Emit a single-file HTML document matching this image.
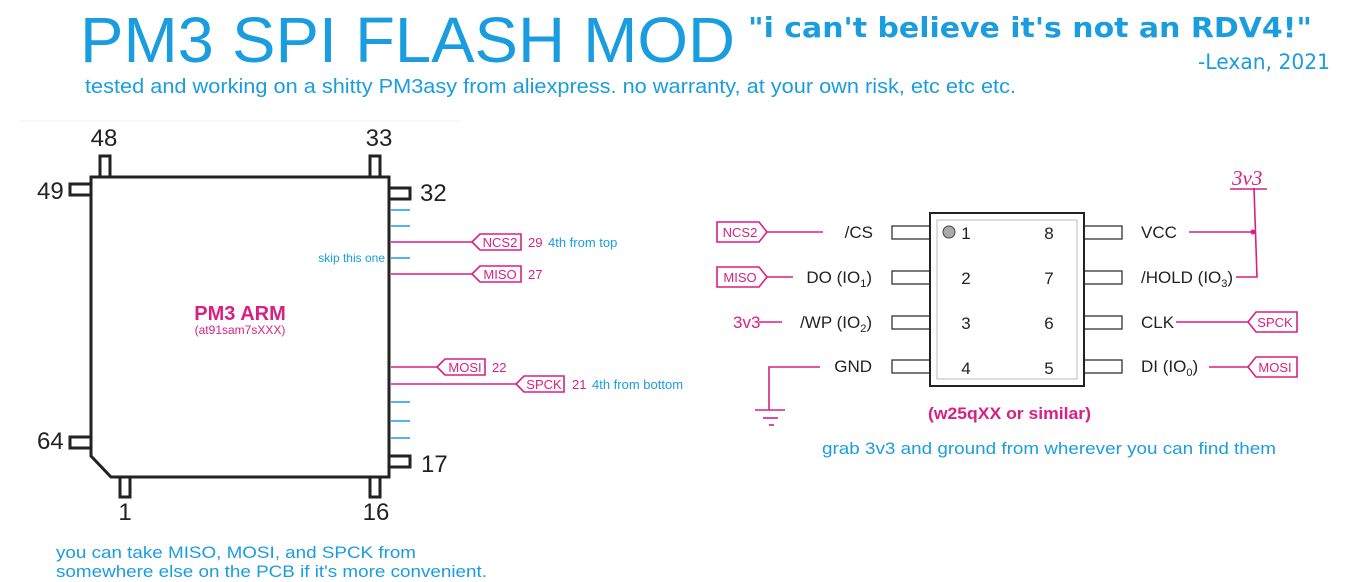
<!DOCTYPE html>
<html><head><meta charset="utf-8"><style>
html,body{margin:0;padding:0;background:#fff}
svg{display:block}
text{font-family:"Liberation Sans",Arial,sans-serif}
</style></head><body>
<svg width="1345" height="582" viewBox="0 0 1345 582" xmlns="http://www.w3.org/2000/svg">
<defs>
<style>
.b{fill:#1a9ddf}.p{fill:#d81f84}.k{fill:#222}
.pl{stroke:#d81f84;stroke-width:1.6;fill:none}
.bl{stroke:#1a9ddf;stroke-width:1.6;fill:none}
.ch{stroke:#222;stroke-width:3;fill:#fff}
</style>
</defs>
<!-- header -->
<text class="b" x="80" y="62" font-size="64" textLength="655" lengthAdjust="spacingAndGlyphs">PM3 SPI FLASH MOD</text>
<text class="b" x="748" y="37" font-size="28" font-weight="bold" textLength="564" lengthAdjust="spacingAndGlyphs" style="font-family:'DejaVu Sans',sans-serif">"i can't believe it's not an RDV4!"</text>
<text class="b" x="1198" y="69" font-size="21" textLength="132" lengthAdjust="spacingAndGlyphs" style="font-family:'DejaVu Sans',sans-serif">-Lexan, 2021</text>
<text class="b" x="85" y="93" font-size="20" textLength="931" lengthAdjust="spacingAndGlyphs">tested and working on a shitty PM3asy from aliexpress. no warranty, at your own risk, etc etc etc.</text>
<line x1="20" y1="121" x2="461" y2="121" stroke="#f2f2f2" stroke-width="1"/>

<!-- ARM chip pins -->
<rect class="ch" x="100" y="156" width="10" height="21" stroke-width="2.5"/>
<rect class="ch" x="370" y="156" width="10" height="21" stroke-width="2.5"/>
<rect class="ch" x="70" y="184" width="21" height="11" stroke-width="2.5"/>
<rect class="ch" x="389" y="188" width="21" height="11" stroke-width="2.5"/>
<rect class="ch" x="70" y="437" width="21" height="11" stroke-width="2.5"/>
<rect class="ch" x="389" y="456" width="21" height="11" stroke-width="2.5"/>
<rect class="ch" x="120" y="477" width="10" height="20" stroke-width="2.5"/>
<rect class="ch" x="370" y="477" width="10" height="20" stroke-width="2.5"/>
<path class="ch" d="M91 177 H389 V477 H111 L91 456 Z"/>
<text class="k" x="104" y="146" font-size="24" text-anchor="middle">48</text>
<text class="k" x="379" y="146" font-size="24" text-anchor="middle">33</text>
<text class="k" x="37" y="199" font-size="24">49</text>
<text class="k" x="420" y="201" font-size="24">32</text>
<text class="k" x="37" y="449" font-size="24">64</text>
<text class="k" x="421" y="472" font-size="24">17</text>
<text class="k" x="125" y="520" font-size="24" text-anchor="middle">1</text>
<text class="k" x="376" y="520" font-size="24" text-anchor="middle">16</text>
<text class="p" x="240" y="320" font-size="20" font-weight="bold" text-anchor="middle">PM3 ARM</text>
<text class="p" x="240" y="334" font-size="12" text-anchor="middle">(at91sam7sXXX)</text>

<!-- blue ticks -->
<g class="bl">
<line x1="391" y1="210" x2="410" y2="210"/><line x1="391" y1="226" x2="410" y2="226"/><line x1="391" y1="258" x2="410" y2="258"/>
<line x1="391" y1="402" x2="410" y2="402"/><line x1="391" y1="421" x2="410" y2="421"/><line x1="391" y1="438" x2="410" y2="438"/>
</g>
<text class="b" x="385" y="262" font-size="12" text-anchor="end">skip this one</text>
<!-- pink lines with tags -->
<g class="pl">
<line x1="391" y1="242" x2="472" y2="242"/>
<path d="M472 242 L480 234 H521 V250 H480 Z"/>
<line x1="391" y1="274" x2="472" y2="274"/>
<path d="M472 274 L480 266 H521 V282 H480 Z"/>
<line x1="391" y1="367" x2="437" y2="367"/>
<path d="M437 367 L445 359 H485 V375 H445 Z"/>
<line x1="391" y1="384" x2="516" y2="384"/>
<path d="M516 384 L524 376 H564 V392 H524 Z"/>
</g>
<g font-size="13">
<text class="p" x="500" y="247" text-anchor="middle">NCS2</text>
<text class="p" x="528" y="247">29</text><text class="b" x="548" y="247">4th from top</text>
<text class="p" x="500" y="279" text-anchor="middle">MISO</text>
<text class="p" x="528" y="279">27</text>
<text class="p" x="465" y="372" text-anchor="middle">MOSI</text>
<text class="p" x="492" y="372">22</text>
<text class="p" x="544" y="389" text-anchor="middle">SPCK</text>
<text class="p" x="572" y="389">21</text><text class="b" x="592" y="389">4th from bottom</text>
</g>
<text class="b" x="56" y="558" font-size="17" textLength="360" lengthAdjust="spacingAndGlyphs">you can take MISO, MOSI, and SPCK from</text>
<text class="b" x="56" y="577" font-size="17" textLength="431" lengthAdjust="spacingAndGlyphs">somewhere else on the PCB if it's more convenient.</text>

<!-- flash chip -->
<g stroke="#333" stroke-width="1.3" fill="#fff">
<rect x="892" y="226" width="38" height="13"/><rect x="892" y="271" width="38" height="13"/>
<rect x="892" y="316" width="38" height="13"/><rect x="892" y="360" width="38" height="13"/>
<rect x="1084" y="226" width="38" height="13"/><rect x="1084" y="271" width="38" height="13"/>
<rect x="1084" y="316" width="38" height="13"/><rect x="1084" y="360" width="38" height="13"/>
</g>
<rect x="930" y="213" width="154" height="173" fill="#fff" stroke="#222" stroke-width="2"/>
<rect x="937" y="220" width="140" height="159" fill="none" stroke="#bbb" stroke-width="1"/>
<circle cx="949" cy="232" r="6" fill="#aaa" stroke="#444" stroke-width="1"/>
<g class="k" font-size="17" text-anchor="middle">
<text x="966" y="239">1</text><text x="1049" y="239">8</text>
<text x="966" y="284">2</text><text x="1049" y="284">7</text>
<text x="966" y="329">3</text><text x="1049" y="329">6</text>
<text x="966" y="374">4</text><text x="1049" y="374">5</text>
</g>
<g class="k" font-size="17">
<text x="873" y="238" text-anchor="end">/CS</text>
<text x="872" y="283" text-anchor="end">DO (IO<tspan font-size="11" dy="4">1</tspan><tspan dy="-4">)</tspan></text>
<text x="872" y="328" text-anchor="end">/WP (IO<tspan font-size="11" dy="4">2</tspan><tspan dy="-4">)</tspan></text>
<text x="872" y="372" text-anchor="end">GND</text>
<text x="1141" y="238">VCC</text>
<text x="1141" y="283">/HOLD (IO<tspan font-size="11" dy="4">3</tspan><tspan dy="-4">)</tspan></text>
<text x="1141" y="328">CLK</text>
<text x="1141" y="372">DI (IO<tspan font-size="11" dy="4">0</tspan><tspan dy="-4">)</tspan></text>
</g>
<g class="pl">
<path d="M717 222 H759 L767 232 L759 242 H717 Z"/>
<line x1="767" y1="232" x2="823" y2="232"/>
<path d="M717 267 H759 L767 277 L759 287 H717 Z"/>
<line x1="767" y1="277" x2="793" y2="277"/>
<line x1="759" y1="322" x2="782" y2="322"/>
<path d="M820 367 H769 V410"/>
<line x1="755" y1="410" x2="785" y2="410"/>
<line x1="763" y1="418" x2="778" y2="418"/>
<line x1="769" y1="425" x2="774" y2="425"/>
<line x1="1189" y1="232" x2="1254" y2="232"/>
<path d="M1236 277 H1257 L1254 188"/>
<line x1="1230" y1="189" x2="1267" y2="189"/>
<line x1="1176" y1="322" x2="1248" y2="322"/>
<path d="M1248 322 L1256 312 H1297 V332 H1256 Z"/>
<line x1="1209" y1="367" x2="1248" y2="367"/>
<path d="M1248 367 L1256 357 H1297 V377 H1256 Z"/>
</g>
<circle cx="1253" cy="232" r="2.5" fill="#d81f84"/>
<g font-size="13">
<text class="p" x="740" y="237" text-anchor="middle">NCS2</text>
<text class="p" x="740" y="282" text-anchor="middle">MISO</text>
<text class="p" x="1275" y="327" text-anchor="middle">SPCK</text>
<text class="p" x="1275" y="372" text-anchor="middle">MOSI</text>
</g>
<text class="p" x="733" y="328" font-size="17">3v3</text>
<text class="p" x="1232" y="185" font-size="21" font-style="italic" style="font-family:'Liberation Serif',serif">3v3</text>
<text class="p" x="928" y="419" font-size="17" font-weight="bold" textLength="163" lengthAdjust="spacingAndGlyphs">(w25qXX or similar)</text>
<text class="b" x="822" y="454" font-size="17" textLength="454" lengthAdjust="spacingAndGlyphs">grab 3v3 and ground from wherever you can find them</text>
</svg>
</body></html>
